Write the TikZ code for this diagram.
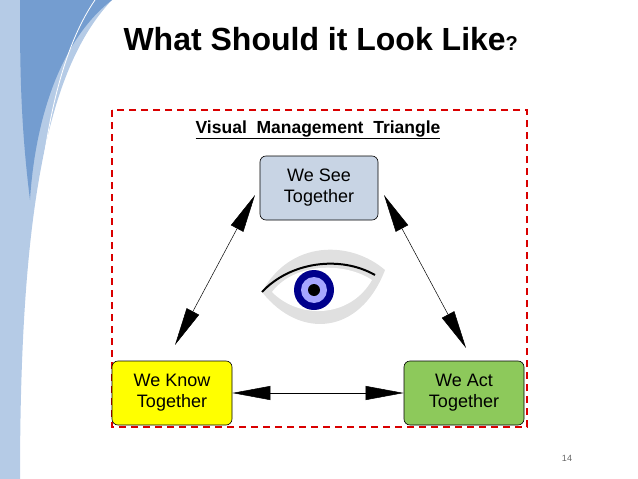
\documentclass[tikz,border=0pt]{standalone}
\usepackage{fontspec}
\setmainfont{Liberation Sans}
\usetikzlibrary{positioning, arrows.meta}
\definecolor{seeblue}{HTML}{C8D4E4}
\definecolor{knowyellow}{HTML}{FFFF00}
\definecolor{actgreen}{HTML}{8DC95B}
\definecolor{slideblue}{HTML}{5B8CC8}
\tikzset{
  box/.style={draw=black, line width=0.6pt, rounded corners=6pt, minimum width=120pt, minimum height=64pt, align=center, font=\fontsize{18}{21}\selectfont},
  bigarrow/.style={line width=0.5pt, {Triangle[length=38pt,width=14pt]}-{Triangle[length=38pt,width=14pt]}}
}
\begin{document}
\begin{tikzpicture}[x=1pt,y=-1pt]
  \useasboundingbox (0,0) rectangle (638,479);
  % slide decoration
  \fill[slideblue!45] (0,0) -- (112,0) .. controls (45,70) and (20,220) .. (20,479) -- (0,479) -- cycle;
  \fill[slideblue!85] (20,0) -- (112,0) .. controls (60,40) and (35,120) .. (30,200) .. controls (20,120) and (20,60) .. (20,0) -- cycle;
  \draw[white, line width=0.8pt] (95,0) .. controls (40,80) and (25,250) .. (35,479);
  % title
  \node[anchor=base west, font=\bfseries\fontsize{32}{36}\selectfont] (title) at (120,50) {What Should it Look Like{\fontsize{20}{22}\selectfont ?}};
  % frame
  \draw[red!85!black, line width=1.3pt, dash pattern=on 7pt off 5pt] (112,110) rectangle (527,427);
  \node[font=\bfseries\fontsize{17.5}{20}\selectfont] (head) at (318,130) {\underline{Visual\ \ Management\ \ Triangle}};
  % boxes
  \node[box, fill=seeblue, minimum width=118pt] (see) at (319,188) {We See\\Together};
  \node[box, fill=knowyellow] (know) at (172,393) {We Know\\Together};
  \node[box, fill=actgreen] (act) at (464,393) {We Act\\Together};
  % arrows
  \coordinate (sl) at (255,195);
  \coordinate (kl) at (175,345);
  \coordinate (sr) at (384,195);
  \coordinate (ar) at (466,348);
  \draw[bigarrow] (sl) -- (kl);
  \draw[bigarrow] (sr) -- (ar);
  \draw[bigarrow] (know.east) -- (act.west);
  % eye
  \fill[black!12] (262,292) .. controls (290,240) and (350,240) .. (385,270) .. controls (360,335) and (300,340) .. (262,292) -- cycle;
  \fill[white] (272,292) .. controls (295,262) and (345,262) .. (372,280) .. controls (350,318) and (300,320) .. (272,292) -- cycle;
  \fill[blue!55!black] (314,290) circle (20pt);
  \fill[blue!35!white] (314,290) circle (13pt);
  \fill[black] (314,290) circle (6pt);
  \draw[black, line width=2pt] (262,292) .. controls (290,262) and (340,255) .. (375,275);
  % page number
  \node[text=black!60, font=\fontsize{9}{10}\selectfont] (page) at (567,458) {14};
\end{tikzpicture}
\end{document}
